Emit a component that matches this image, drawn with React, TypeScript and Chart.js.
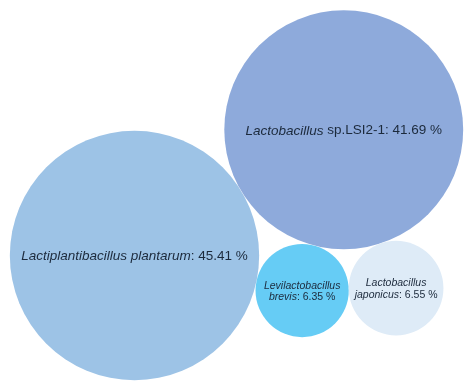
import React, { useEffect, useRef } from "react";
import { Chart, registerables } from "chart.js";

Chart.register(...registerables);

// Data
const italicNames = [
  "Lactiplantibacillus plantarum",
  "Lactobacillus",
  "Levilactobacillus brevis",
  "Lactobacillus japonicus",
];
const nameSuffixes = ["", " sp.LSI2-1", "", ""];
const shares = [45.41, 41.69, 6.35, 6.55];
const colors = ["#9dc3e6", "#8eaadb", "#66ccf5", "#deebf7"];

// Layout (circle packing, radius ∝ sqrt(share))
const PX_PER_UNIT = 18.5;
const PACK_ANGLE = 31; // degrees, direction from first to second bubble
const X_MIN = -7.27;
const Y_MAX = 13.81;

type P = { x: number; y: number; r: number };

function tangent(a: P, b: P, r: number, sign: number): P {
  const dx = b.x - a.x;
  const dy = b.y - a.y;
  const d = Math.hypot(dx, dy);
  const da = a.r + r;
  const db = b.r + r;
  const cosA = (d * d + da * da - db * db) / (2 * d * da);
  const ang = Math.atan2(dy, dx) + sign * Math.acos(Math.max(-1, Math.min(1, cosA)));
  return { x: a.x + da * Math.cos(ang), y: a.y + da * Math.sin(ang), r };
}

function packLayout(values: number[]): P[] {
  const rs = values.map((v) => Math.sqrt(v));
  const A: P = { x: 0, y: 0, r: rs[0] };
  const t = (PACK_ANGLE * Math.PI) / 180;
  const B: P = { x: (rs[0] + rs[1]) * Math.cos(t), y: (rs[0] + rs[1]) * Math.sin(t), r: rs[1] };
  const C = tangent(A, B, rs[2], -1);
  const D = tangent(C, B, rs[3], -1);
  return [A, B, C, D];
}

const layout = packLayout(shares);

type Seg = { text: string; italic: boolean };

const labelPlugin = {
  id: "bubbleLabels",
  afterDatasetsDraw(chart: any) {
    const ctx = chart.ctx as CanvasRenderingContext2D;
    const meta = chart.getDatasetMeta(0);
    meta.data.forEach((el: any, i: number) => {
      const r = Math.sqrt(shares[i]) * PX_PER_UNIT;
      const size = r > 80 ? 13.5 : 10.5;
      const family = "'Liberation Sans', Arial, sans-serif";
      const fontFor = (it: boolean) => `${it ? "italic " : ""}${size}px ${family}`;
      const valueText = `${nameSuffixes[i]}: ${shares[i].toFixed(2)} %`;
      const full: Seg[] = [
        { text: italicNames[i], italic: true },
        { text: valueText, italic: false },
      ];
      const widthOf = (segs: Seg[]) =>
        segs.reduce((w, s) => {
          ctx.font = fontFor(s.italic);
          return w + ctx.measureText(s.text).width;
        }, 0);
      let lines: Seg[][] = [full];
      if (widthOf(full) > 1.9 * r) {
        const words = italicNames[i].split(" ");
        const first = words[0];
        const rest = words.slice(1).join(" ");
        lines = [
          [{ text: first, italic: true }],
          rest
            ? [
                { text: rest, italic: true },
                { text: valueText, italic: false },
              ]
            : [{ text: valueText.trim(), italic: false }],
        ];
      }
      const lh = size * 1.1;
      ctx.save();
      ctx.fillStyle = "#1c2a3c";
      ctx.textBaseline = "middle";
      ctx.textAlign = "left";
      const y0 = el.y - ((lines.length - 1) * lh) / 2;
      lines.forEach((segs, li) => {
        const w = widthOf(segs);
        let x = el.x - w / 2;
        segs.forEach((s) => {
          ctx.font = fontFor(s.italic);
          ctx.fillText(s.text, x, y0 + li * lh + 1);
          x += ctx.measureText(s.text).width;
        });
      });
      ctx.restore();
    });
  },
};

export default function App() {
  const ref = useRef<HTMLCanvasElement | null>(null);
  useEffect(() => {
    if (!ref.current) return;
    const W = 474;
    const H = 387;
    const chart = new Chart(ref.current, {
      type: "bubble",
      data: {
        datasets: [
          {
            data: layout.map((p, i) => ({ x: p.x, y: p.y, r: Math.sqrt(shares[i]) * PX_PER_UNIT })),
            backgroundColor: colors,
            borderColor: colors,
            borderWidth: 0,
            hoverRadius: 0,
            hitRadius: 0,
            clip: false,
          } as any,
        ],
      },
      options: {
        responsive: true,
        maintainAspectRatio: false,
        animation: false,
        layout: { padding: 0, autoPadding: false },
        events: [],
        plugins: { legend: { display: false }, tooltip: { enabled: false } },
        scales: {
          x: { type: "linear", display: false, min: X_MIN, max: X_MIN + W / PX_PER_UNIT },
          y: { type: "linear", display: false, min: Y_MAX - H / PX_PER_UNIT, max: Y_MAX },
        },
      },
      plugins: [labelPlugin],
    });
    return () => chart.destroy();
  }, []);
  return (
    <div style={{ position: "fixed", left: 0, top: 0, width: 474, height: 387, background: "#fff" }}>
      <canvas ref={ref} />
    </div>
  );
}
